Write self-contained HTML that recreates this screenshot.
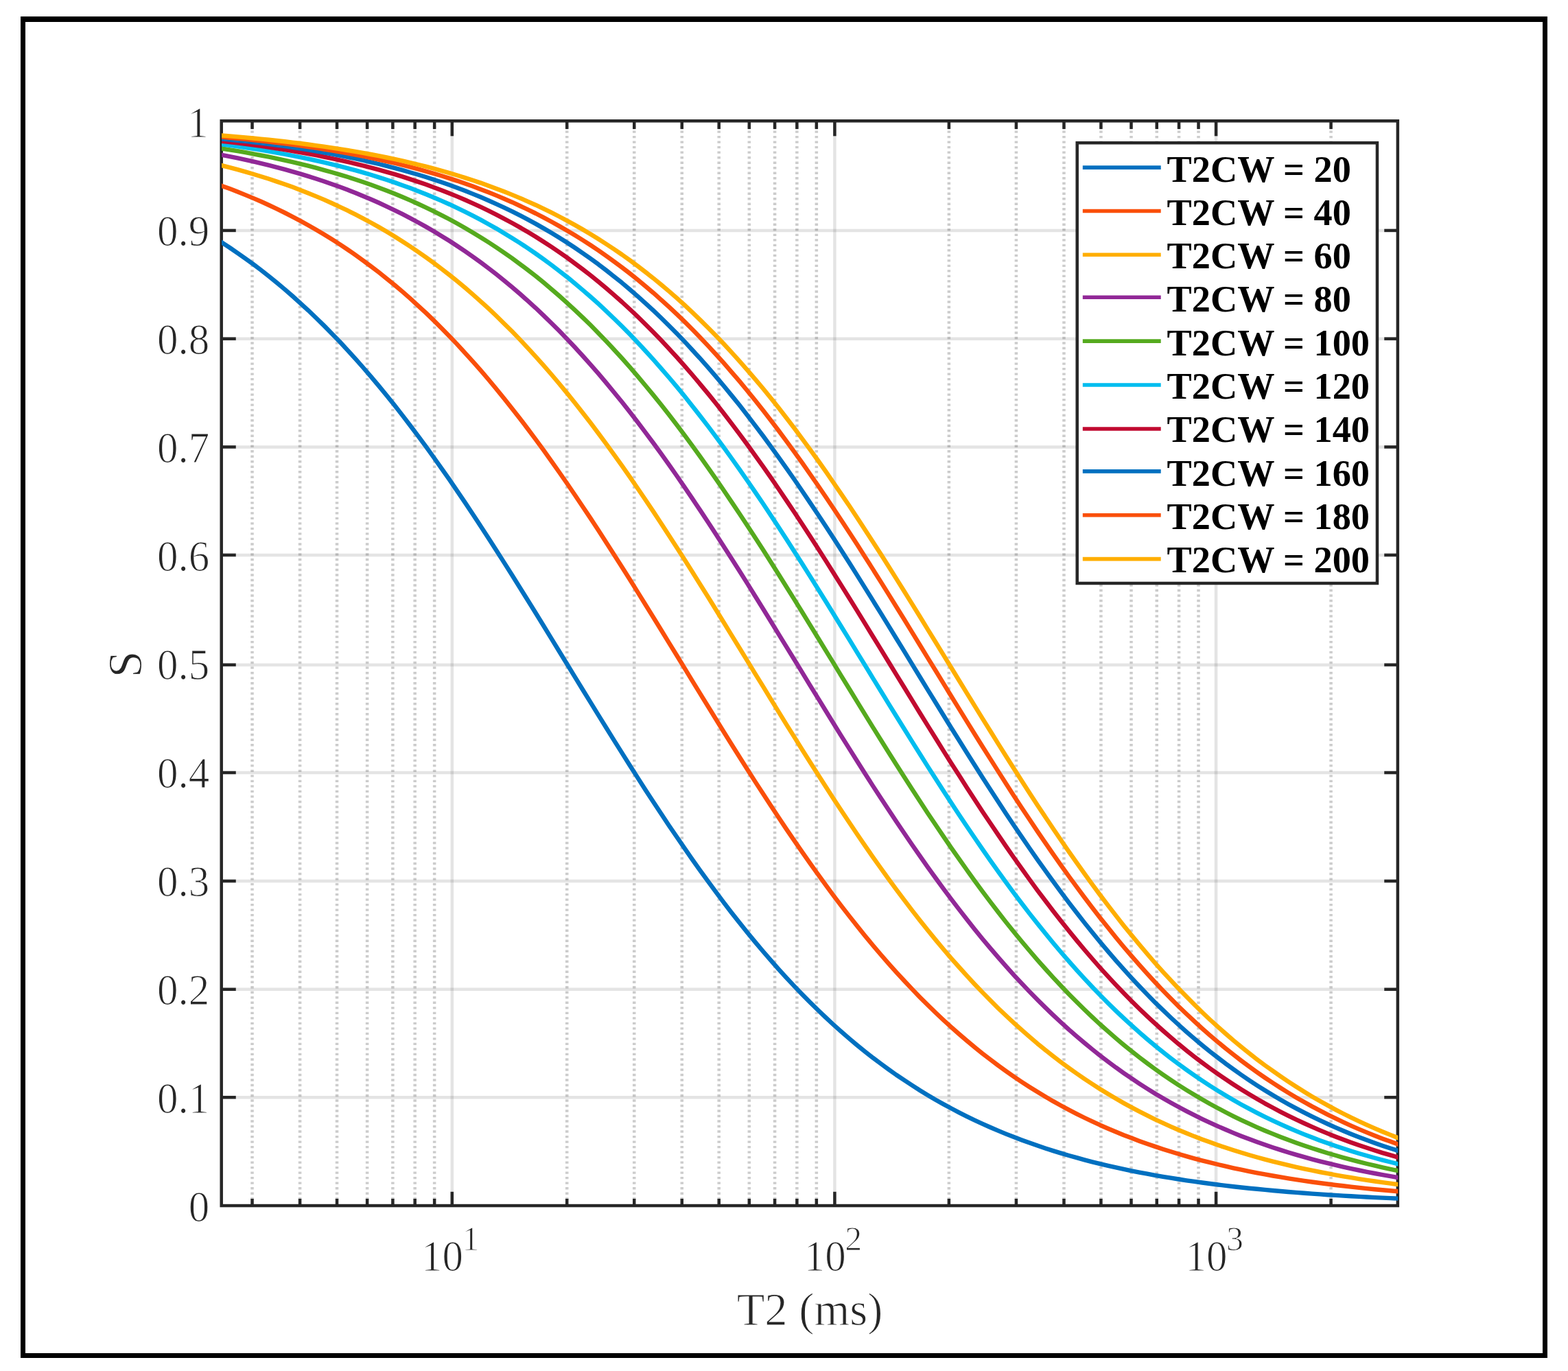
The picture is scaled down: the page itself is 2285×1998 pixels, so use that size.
<!DOCTYPE html>
<html lang="en"><head><meta charset="utf-8"><title>S versus T2 (ms) for T2CW = 20 to 200</title>
<style>html,body{margin:0;padding:0;background:#fff}body{width:2285px;height:1998px;overflow:hidden}svg{display:block}text{font-family:"Liberation Serif","Times New Roman",Times,serif}</style>
</head><body>
<svg width="2285" height="1998" viewBox="0 0 2285 1998">
<rect x="0" y="0" width="2285" height="1998" fill="#fff"/>
<path fill="#000" fill-rule="evenodd" d="M30 24H2255V1979H30Z M37 32V1972H2248V32Z"/>
<g>
<g stroke="#262626" stroke-opacity="0.235" stroke-width="4.5" stroke-dasharray="3.4 4.11" fill="none">
<line x1="367.53" y1="1748.4" x2="367.53" y2="178.5"/>
<line x1="437.08" y1="1748.4" x2="437.08" y2="178.5"/>
<line x1="491.03" y1="1748.4" x2="491.03" y2="178.5"/>
<line x1="535.11" y1="1748.4" x2="535.11" y2="178.5"/>
<line x1="572.38" y1="1748.4" x2="572.38" y2="178.5"/>
<line x1="604.66" y1="1748.4" x2="604.66" y2="178.5"/>
<line x1="633.14" y1="1748.4" x2="633.14" y2="178.5"/>
<line x1="826.19" y1="1748.4" x2="826.19" y2="178.5"/>
<line x1="924.22" y1="1748.4" x2="924.22" y2="178.5"/>
<line x1="993.77" y1="1748.4" x2="993.77" y2="178.5"/>
<line x1="1047.72" y1="1748.4" x2="1047.72" y2="178.5"/>
<line x1="1091.8" y1="1748.4" x2="1091.8" y2="178.5"/>
<line x1="1129.07" y1="1748.4" x2="1129.07" y2="178.5"/>
<line x1="1161.35" y1="1748.4" x2="1161.35" y2="178.5"/>
<line x1="1189.83" y1="1748.4" x2="1189.83" y2="178.5"/>
<line x1="1382.88" y1="1748.4" x2="1382.88" y2="178.5"/>
<line x1="1480.91" y1="1748.4" x2="1480.91" y2="178.5"/>
<line x1="1550.46" y1="1748.4" x2="1550.46" y2="178.5"/>
<line x1="1604.41" y1="1748.4" x2="1604.41" y2="178.5"/>
<line x1="1648.49" y1="1748.4" x2="1648.49" y2="178.5"/>
<line x1="1685.76" y1="1748.4" x2="1685.76" y2="178.5"/>
<line x1="1718.04" y1="1748.4" x2="1718.04" y2="178.5"/>
<line x1="1746.52" y1="1748.4" x2="1746.52" y2="178.5"/>
<line x1="1939.57" y1="1748.4" x2="1939.57" y2="178.5"/>
</g>
<g stroke="#262626" stroke-opacity="0.125" stroke-width="4.5" fill="none">
<line x1="658.8" y1="176.25" x2="658.8" y2="1757.05"/>
<line x1="1216.4" y1="176.25" x2="1216.4" y2="1757.05"/>
<line x1="1772.1" y1="176.25" x2="1772.1" y2="1757.05"/>
<line x1="322.7" y1="1599.2" x2="2036.85" y2="1599.2"/>
<line x1="322.7" y1="1441.8" x2="2036.85" y2="1441.8"/>
<line x1="322.7" y1="1284" x2="2036.85" y2="1284"/>
<line x1="322.7" y1="1126" x2="2036.85" y2="1126"/>
<line x1="322.7" y1="968.9" x2="2036.85" y2="968.9"/>
<line x1="322.7" y1="808.9" x2="2036.85" y2="808.9"/>
<line x1="322.7" y1="651.4" x2="2036.85" y2="651.4"/>
<line x1="322.7" y1="493.7" x2="2036.85" y2="493.7"/>
<line x1="322.7" y1="335.9" x2="2036.85" y2="335.9"/>
</g>
<rect x="322.7" y="176.25" width="1714.15" height="1580.8" fill="none" stroke="#262626" stroke-width="4.5"/>
<g stroke="#262626" stroke-width="4.5" fill="none">
<line x1="322.7" y1="1599.2" x2="343.75" y2="1599.2"/>
<line x1="2036.85" y1="1599.2" x2="2017.25" y2="1599.2"/>
<line x1="322.7" y1="1441.8" x2="343.75" y2="1441.8"/>
<line x1="2036.85" y1="1441.8" x2="2017.25" y2="1441.8"/>
<line x1="322.7" y1="1284" x2="343.75" y2="1284"/>
<line x1="2036.85" y1="1284" x2="2017.25" y2="1284"/>
<line x1="322.7" y1="1126" x2="343.75" y2="1126"/>
<line x1="2036.85" y1="1126" x2="2017.25" y2="1126"/>
<line x1="322.7" y1="968.9" x2="343.75" y2="968.9"/>
<line x1="2036.85" y1="968.9" x2="2017.25" y2="968.9"/>
<line x1="322.7" y1="808.9" x2="343.75" y2="808.9"/>
<line x1="2036.85" y1="808.9" x2="2017.25" y2="808.9"/>
<line x1="322.7" y1="651.4" x2="343.75" y2="651.4"/>
<line x1="2036.85" y1="651.4" x2="2017.25" y2="651.4"/>
<line x1="322.7" y1="493.7" x2="343.75" y2="493.7"/>
<line x1="2036.85" y1="493.7" x2="2017.25" y2="493.7"/>
<line x1="322.7" y1="335.9" x2="343.75" y2="335.9"/>
<line x1="2036.85" y1="335.9" x2="2017.25" y2="335.9"/>
<line x1="658.8" y1="176.25" x2="658.8" y2="198.3"/>
<line x1="658.8" y1="1757.05" x2="658.8" y2="1736.8"/>
<line x1="1216.4" y1="176.25" x2="1216.4" y2="198.3"/>
<line x1="1216.4" y1="1757.05" x2="1216.4" y2="1736.8"/>
<line x1="1772.1" y1="176.25" x2="1772.1" y2="198.3"/>
<line x1="1772.1" y1="1757.05" x2="1772.1" y2="1736.8"/>
<line x1="367.53" y1="176.25" x2="367.53" y2="188.1"/>
<line x1="367.53" y1="1757.05" x2="367.53" y2="1747"/>
<line x1="437.08" y1="176.25" x2="437.08" y2="188.1"/>
<line x1="437.08" y1="1757.05" x2="437.08" y2="1747"/>
<line x1="491.03" y1="176.25" x2="491.03" y2="188.1"/>
<line x1="491.03" y1="1757.05" x2="491.03" y2="1747"/>
<line x1="535.11" y1="176.25" x2="535.11" y2="188.1"/>
<line x1="535.11" y1="1757.05" x2="535.11" y2="1747"/>
<line x1="572.38" y1="176.25" x2="572.38" y2="188.1"/>
<line x1="572.38" y1="1757.05" x2="572.38" y2="1747"/>
<line x1="604.66" y1="176.25" x2="604.66" y2="188.1"/>
<line x1="604.66" y1="1757.05" x2="604.66" y2="1747"/>
<line x1="633.14" y1="176.25" x2="633.14" y2="188.1"/>
<line x1="633.14" y1="1757.05" x2="633.14" y2="1747"/>
<line x1="826.19" y1="176.25" x2="826.19" y2="188.1"/>
<line x1="826.19" y1="1757.05" x2="826.19" y2="1747"/>
<line x1="924.22" y1="176.25" x2="924.22" y2="188.1"/>
<line x1="924.22" y1="1757.05" x2="924.22" y2="1747"/>
<line x1="993.77" y1="176.25" x2="993.77" y2="188.1"/>
<line x1="993.77" y1="1757.05" x2="993.77" y2="1747"/>
<line x1="1047.72" y1="176.25" x2="1047.72" y2="188.1"/>
<line x1="1047.72" y1="1757.05" x2="1047.72" y2="1747"/>
<line x1="1091.8" y1="176.25" x2="1091.8" y2="188.1"/>
<line x1="1091.8" y1="1757.05" x2="1091.8" y2="1747"/>
<line x1="1129.07" y1="176.25" x2="1129.07" y2="188.1"/>
<line x1="1129.07" y1="1757.05" x2="1129.07" y2="1747"/>
<line x1="1161.35" y1="176.25" x2="1161.35" y2="188.1"/>
<line x1="1161.35" y1="1757.05" x2="1161.35" y2="1747"/>
<line x1="1189.83" y1="176.25" x2="1189.83" y2="188.1"/>
<line x1="1189.83" y1="1757.05" x2="1189.83" y2="1747"/>
<line x1="1382.88" y1="176.25" x2="1382.88" y2="188.1"/>
<line x1="1382.88" y1="1757.05" x2="1382.88" y2="1747"/>
<line x1="1480.91" y1="176.25" x2="1480.91" y2="188.1"/>
<line x1="1480.91" y1="1757.05" x2="1480.91" y2="1747"/>
<line x1="1550.46" y1="176.25" x2="1550.46" y2="188.1"/>
<line x1="1550.46" y1="1757.05" x2="1550.46" y2="1747"/>
<line x1="1604.41" y1="176.25" x2="1604.41" y2="188.1"/>
<line x1="1604.41" y1="1757.05" x2="1604.41" y2="1747"/>
<line x1="1648.49" y1="176.25" x2="1648.49" y2="188.1"/>
<line x1="1648.49" y1="1757.05" x2="1648.49" y2="1747"/>
<line x1="1685.76" y1="176.25" x2="1685.76" y2="188.1"/>
<line x1="1685.76" y1="1757.05" x2="1685.76" y2="1747"/>
<line x1="1718.04" y1="176.25" x2="1718.04" y2="188.1"/>
<line x1="1718.04" y1="1757.05" x2="1718.04" y2="1747"/>
<line x1="1746.52" y1="176.25" x2="1746.52" y2="188.1"/>
<line x1="1746.52" y1="1757.05" x2="1746.52" y2="1747"/>
<line x1="1939.57" y1="176.25" x2="1939.57" y2="188.1"/>
<line x1="1939.57" y1="1757.05" x2="1939.57" y2="1747"/>
</g>
<defs><clipPath id="c"><rect x="323" y="176.25" width="1714.3" height="1580.8"/></clipPath></defs>
<g clip-path="url(#c)" fill="none" stroke-width="6.4" stroke-linejoin="round">
<path stroke="#0070c0" d="M312 346.2L323.4 353.5L334.9 361L346.3 368.8L357.7 376.8L369.2 385.2L380.6 393.8L392 402.8L403.4 412.1L414.9 421.6L426.3 431.5L437.7 441.8L449.2 452.3L460.6 463.2L472 474.4L483.4 486L494.9 497.8L506.3 510.1L517.7 522.6L529.1 535.5L540.6 548.8L552 562.4L563.4 576.3L574.9 590.5L586.3 605.1L597.7 620L609.1 635.2L620.6 650.7L632 666.5L643.4 682.6L654.9 698.9L666.3 715.6L677.7 732.4L689.1 749.6L700.6 766.9L712 784.5L723.4 802.2L734.8 820.1L746.3 838.2L757.7 856.5L769.1 874.8L780.6 893.3L792 911.8L803.4 930.4L814.8 949L826.3 967.7L837.7 986.3L849.1 1005L860.6 1023.6L872 1042.1L883.4 1060.5L894.8 1078.9L906.3 1097.1L917.7 1115.2L929.1 1133.1L940.5 1150.9L952 1168.4L963.4 1185.8L974.8 1202.9L986.3 1219.8L997.7 1236.4L1009.1 1252.8L1020.5 1268.8L1032 1284.6L1043.4 1300.1L1054.8 1315.3L1066.2 1330.2L1077.7 1344.8L1089.1 1359L1100.5 1372.9L1112 1386.5L1123.4 1399.7L1134.8 1412.6L1146.2 1425.2L1157.7 1437.4L1169.1 1449.3L1180.5 1460.8L1192 1472L1203.4 1482.9L1214.8 1493.5L1226.2 1503.7L1237.7 1513.6L1249.1 1523.2L1260.5 1532.4L1271.9 1541.4L1283.4 1550L1294.8 1558.4L1306.2 1566.5L1317.7 1574.2L1329.1 1581.7L1340.5 1589L1351.9 1595.9L1363.4 1602.7L1374.8 1609.1L1386.2 1615.3L1397.7 1621.3L1409.1 1627.1L1420.5 1632.6L1431.9 1637.9L1443.4 1643L1454.8 1647.9L1466.2 1652.6L1477.6 1657.1L1489.1 1661.5L1500.5 1665.6L1511.9 1669.6L1523.4 1673.5L1534.8 1677.1L1546.2 1680.6L1557.6 1684L1569.1 1687.2L1580.5 1690.3L1591.9 1693.3L1603.3 1696.1L1614.8 1698.8L1626.2 1701.4L1637.6 1703.9L1649.1 1706.3L1660.5 1708.6L1671.9 1710.7L1683.3 1712.8L1694.8 1714.8L1706.2 1716.7L1717.6 1718.5L1729.1 1720.3L1740.5 1721.9L1751.9 1723.5L1763.3 1725L1774.8 1726.5L1786.2 1727.9L1797.6 1729.2L1809 1730.5L1820.5 1731.7L1831.9 1732.8L1843.3 1733.9L1854.8 1735L1866.2 1736L1877.6 1737L1889 1737.9L1900.5 1738.8L1911.9 1739.6L1923.3 1740.4L1934.8 1741.2L1946.2 1741.9L1957.6 1742.6L1969 1743.2L1980.5 1743.9L1991.9 1744.5L2003.3 1745.1L2014.7 1745.6L2026.2 1746.1L2037.6 1746.6L2049 1747.1"/>
<path stroke="#fa4f0a" d="M312 266.8L323.4 270.9L334.9 275.1L346.3 279.5L357.7 284.1L369.2 288.9L380.6 293.8L392 299L403.4 304.4L414.9 310L426.3 315.8L437.7 321.9L449.2 328.2L460.6 334.8L472 341.6L483.4 348.6L494.9 355.9L506.3 363.5L517.7 371.4L529.1 379.6L540.6 388.1L552 396.8L563.4 405.9L574.9 415.2L586.3 424.9L597.7 434.9L609.1 445.3L620.6 455.9L632 466.9L643.4 478.2L654.9 489.9L666.3 501.9L677.7 514.3L689.1 526.9L700.6 539.9L712 553.3L723.4 567L734.8 581L746.3 595.4L757.7 610L769.1 625L780.6 640.3L792 655.9L803.4 671.8L814.8 688L826.3 704.5L837.7 721.2L849.1 738.2L860.6 755.4L872 772.8L883.4 790.4L894.8 808.2L906.3 826.2L917.7 844.3L929.1 862.6L940.5 881L952 899.5L963.4 918L974.8 936.6L986.3 955.3L997.7 973.9L1009.1 992.6L1020.5 1011.2L1032 1029.8L1043.4 1048.3L1054.8 1066.7L1066.2 1085L1077.7 1103.2L1089.1 1121.2L1100.5 1139.1L1112 1156.8L1123.4 1174.3L1134.8 1191.5L1146.2 1208.6L1157.7 1225.4L1169.1 1241.9L1180.5 1258.2L1192 1274.2L1203.4 1289.9L1214.8 1305.3L1226.2 1320.4L1237.7 1335.1L1249.1 1349.6L1260.5 1363.7L1271.9 1377.5L1283.4 1391L1294.8 1404.1L1306.2 1416.9L1317.7 1429.3L1329.1 1441.4L1340.5 1453.2L1351.9 1464.6L1363.4 1475.7L1374.8 1486.5L1386.2 1496.9L1397.7 1507L1409.1 1516.8L1420.5 1526.3L1431.9 1535.5L1443.4 1544.3L1454.8 1552.9L1466.2 1561.1L1477.6 1569.1L1489.1 1576.8L1500.5 1584.2L1511.9 1591.3L1523.4 1598.2L1534.8 1604.9L1546.2 1611.2L1557.6 1617.4L1569.1 1623.3L1580.5 1629L1591.9 1634.4L1603.3 1639.7L1614.8 1644.7L1626.2 1649.5L1637.6 1654.2L1649.1 1658.6L1660.5 1662.9L1671.9 1667L1683.3 1670.9L1694.8 1674.7L1706.2 1678.3L1717.6 1681.8L1729.1 1685.1L1740.5 1688.3L1751.9 1691.3L1763.3 1694.2L1774.8 1697L1786.2 1699.7L1797.6 1702.3L1809 1704.7L1820.5 1707.1L1831.9 1709.3L1843.3 1711.4L1854.8 1713.5L1866.2 1715.4L1877.6 1717.3L1889 1719.1L1900.5 1720.8L1911.9 1722.5L1923.3 1724L1934.8 1725.5L1946.2 1727L1957.6 1728.3L1969 1729.6L1980.5 1730.9L1991.9 1732.1L2003.3 1733.2L2014.7 1734.3L2026.2 1735.3L2037.6 1736.3L2049 1737.3"/>
<path stroke="#ffae00" d="M312 238.4L323.4 241.2L334.9 244.1L346.3 247.2L357.7 250.3L369.2 253.7L380.6 257.2L392 260.8L403.4 264.6L414.9 268.5L426.3 272.6L437.7 276.9L449.2 281.4L460.6 286.1L472 290.9L483.4 296L494.9 301.3L506.3 306.7L517.7 312.4L529.1 318.4L540.6 324.5L552 330.9L563.4 337.6L574.9 344.5L586.3 351.7L597.7 359.1L609.1 366.8L620.6 374.8L632 383.1L643.4 391.7L654.9 400.6L666.3 409.8L677.7 419.3L689.1 429.1L700.6 439.3L712 449.7L723.4 460.5L734.8 471.7L746.3 483.1L757.7 494.9L769.1 507.1L780.6 519.6L792 532.4L803.4 545.5L814.8 559L826.3 572.9L837.7 587L849.1 601.5L860.6 616.3L872 631.5L883.4 646.9L894.8 662.6L906.3 678.6L917.7 694.9L929.1 711.5L940.5 728.3L952 745.4L963.4 762.7L974.8 780.2L986.3 797.9L997.7 815.8L1009.1 833.8L1020.5 852L1032 870.3L1043.4 888.8L1054.8 907.3L1066.2 925.9L1077.7 944.5L1089.1 963.1L1100.5 981.8L1112 1000.4L1123.4 1019.1L1134.8 1037.6L1146.2 1056.1L1157.7 1074.4L1169.1 1092.7L1180.5 1110.8L1192 1128.8L1203.4 1146.6L1214.8 1164.2L1226.2 1181.6L1237.7 1198.8L1249.1 1215.7L1260.5 1232.4L1271.9 1248.8L1283.4 1265L1294.8 1280.8L1306.2 1296.4L1317.7 1311.7L1329.1 1326.6L1340.5 1341.3L1351.9 1355.6L1363.4 1369.6L1374.8 1383.2L1386.2 1396.6L1397.7 1409.5L1409.1 1422.2L1420.5 1434.5L1431.9 1446.4L1443.4 1458.1L1454.8 1469.4L1466.2 1480.3L1477.6 1490.9L1489.1 1501.2L1500.5 1511.2L1511.9 1520.9L1523.4 1530.2L1534.8 1539.2L1546.2 1548L1557.6 1556.4L1569.1 1564.5L1580.5 1572.4L1591.9 1579.9L1603.3 1587.2L1614.8 1594.3L1626.2 1601.1L1637.6 1607.6L1649.1 1613.9L1660.5 1619.9L1671.9 1625.7L1683.3 1631.3L1694.8 1636.6L1706.2 1641.8L1717.6 1646.8L1729.1 1651.5L1740.5 1656.1L1751.9 1660.4L1763.3 1664.6L1774.8 1668.7L1786.2 1672.5L1797.6 1676.2L1809 1679.8L1820.5 1683.2L1831.9 1686.5L1843.3 1689.6L1854.8 1692.6L1866.2 1695.4L1877.6 1698.2L1889 1700.8L1900.5 1703.3L1911.9 1705.7L1923.3 1708L1934.8 1710.2L1946.2 1712.3L1957.6 1714.3L1969 1716.2L1980.5 1718.1L1991.9 1719.8L2003.3 1721.5L2014.7 1723.1L2026.2 1724.7L2037.6 1726.1L2049 1727.5"/>
<path stroke="#912897" d="M312 223.7L323.4 225.9L334.9 228.1L346.3 230.4L357.7 232.9L369.2 235.4L380.6 238.1L392 240.9L403.4 243.8L414.9 246.9L426.3 250.1L437.7 253.4L449.2 256.9L460.6 260.5L472 264.2L483.4 268.2L494.9 272.3L506.3 276.6L517.7 281L529.1 285.7L540.6 290.5L552 295.5L563.4 300.8L574.9 306.3L586.3 311.9L597.7 317.8L609.1 324L620.6 330.4L632 337L643.4 343.9L654.9 351L666.3 358.5L677.7 366.2L689.1 374.1L700.6 382.4L712 391L723.4 399.8L734.8 409L746.3 418.5L757.7 428.3L769.1 438.4L780.6 448.8L792 459.6L803.4 470.7L814.8 482.1L826.3 493.9L837.7 506L849.1 518.5L860.6 531.3L872 544.4L883.4 557.9L894.8 571.7L906.3 585.8L917.7 600.3L929.1 615L940.5 630.1L952 645.5L963.4 661.2L974.8 677.2L986.3 693.5L997.7 710.1L1009.1 726.9L1020.5 743.9L1032 761.2L1043.4 778.7L1054.8 796.4L1066.2 814.2L1077.7 832.3L1089.1 850.4L1100.5 868.8L1112 887.2L1123.4 905.7L1134.8 924.3L1146.2 942.9L1157.7 961.5L1169.1 980.2L1180.5 998.8L1192 1017.4L1203.4 1036L1214.8 1054.5L1226.2 1072.9L1237.7 1091.1L1249.1 1109.3L1260.5 1127.2L1271.9 1145.1L1283.4 1162.7L1294.8 1180.1L1306.2 1197.3L1317.7 1214.2L1329.1 1231L1340.5 1247.4L1351.9 1263.6L1363.4 1279.5L1374.8 1295.1L1386.2 1310.4L1397.7 1325.4L1409.1 1340L1420.5 1354.4L1431.9 1368.4L1443.4 1382.1L1454.8 1395.4L1466.2 1408.4L1477.6 1421.1L1489.1 1433.4L1500.5 1445.4L1511.9 1457.1L1523.4 1468.4L1534.8 1479.4L1546.2 1490L1557.6 1500.4L1569.1 1510.4L1580.5 1520L1591.9 1529.4L1603.3 1538.5L1614.8 1547.2L1626.2 1555.7L1637.6 1563.8L1649.1 1571.7L1660.5 1579.3L1671.9 1586.6L1683.3 1593.7L1694.8 1600.5L1706.2 1607L1717.6 1613.3L1729.1 1619.4L1740.5 1625.2L1751.9 1630.8L1763.3 1636.2L1774.8 1641.4L1786.2 1646.3L1797.6 1651.1L1809 1655.7L1820.5 1660.1L1831.9 1664.3L1843.3 1668.3L1854.8 1672.2L1866.2 1675.9L1877.6 1679.5L1889 1682.9L1900.5 1686.2L1911.9 1689.3L1923.3 1692.3L1934.8 1695.2L1946.2 1697.9L1957.6 1700.6L1969 1703.1L1980.5 1705.5L1991.9 1707.8L2003.3 1710L2014.7 1712.1L2026.2 1714.2L2037.6 1716.1L2049 1717.9"/>
<path stroke="#55aa1e" d="M312 214.8L323.4 216.5L334.9 218.3L346.3 220.2L357.7 222.2L369.2 224.3L380.6 226.5L392 228.7L403.4 231.1L414.9 233.6L426.3 236.2L437.7 238.9L449.2 241.7L460.6 244.7L472 247.8L483.4 251L494.9 254.3L506.3 257.8L517.7 261.5L529.1 265.3L540.6 269.3L552 273.5L563.4 277.8L574.9 282.3L586.3 287L597.7 291.9L609.1 297L620.6 302.3L632 307.8L643.4 313.6L654.9 319.5L666.3 325.7L677.7 332.2L689.1 338.9L700.6 345.9L712 353.1L723.4 360.6L734.8 368.4L746.3 376.4L757.7 384.8L769.1 393.4L780.6 402.3L792 411.6L803.4 421.2L814.8 431L826.3 441.3L837.7 451.8L849.1 462.6L860.6 473.8L872 485.4L883.4 497.2L894.8 509.5L906.3 522L917.7 534.9L929.1 548.1L940.5 561.7L952 575.6L963.4 589.8L974.8 604.3L986.3 619.2L997.7 634.4L1009.1 649.9L1020.5 665.7L1032 681.8L1043.4 698.1L1054.8 714.7L1066.2 731.6L1077.7 748.7L1089.1 766L1100.5 783.6L1112 801.3L1123.4 819.2L1134.8 837.3L1146.2 855.5L1157.7 873.9L1169.1 892.3L1180.5 910.9L1192 929.5L1203.4 948.1L1214.8 966.7L1226.2 985.4L1237.7 1004L1249.1 1022.6L1260.5 1041.2L1271.9 1059.6L1283.4 1078L1294.8 1096.2L1306.2 1114.3L1317.7 1132.2L1329.1 1150L1340.5 1167.6L1351.9 1184.9L1363.4 1202L1374.8 1218.9L1386.2 1235.6L1397.7 1251.9L1409.1 1268L1420.5 1283.9L1431.9 1299.4L1443.4 1314.6L1454.8 1329.5L1466.2 1344.1L1477.6 1358.3L1489.1 1372.2L1500.5 1385.8L1511.9 1399.1L1523.4 1412L1534.8 1424.6L1546.2 1436.8L1557.6 1448.7L1569.1 1460.3L1580.5 1471.5L1591.9 1482.4L1603.3 1493L1614.8 1503.2L1626.2 1513.1L1637.6 1522.7L1649.1 1532L1660.5 1540.9L1671.9 1549.6L1683.3 1558L1694.8 1566.1L1706.2 1573.9L1717.6 1581.4L1729.1 1588.6L1740.5 1595.6L1751.9 1602.3L1763.3 1608.8L1774.8 1615L1786.2 1621L1797.6 1626.8L1809 1632.3L1820.5 1637.7L1831.9 1642.8L1843.3 1647.7L1854.8 1652.4L1866.2 1656.9L1877.6 1661.3L1889 1665.4L1900.5 1669.4L1911.9 1673.3L1923.3 1676.9L1934.8 1680.5L1946.2 1683.8L1957.6 1687.1L1969 1690.2L1980.5 1693.1L1991.9 1696L2003.3 1698.7L2014.7 1701.3L2026.2 1703.8L2037.6 1706.2L2049 1708.4"/>
<path stroke="#00bdef" d="M312 208.8L323.4 210.2L334.9 211.8L346.3 213.4L357.7 215L369.2 216.8L380.6 218.6L392 220.5L403.4 222.5L414.9 224.6L426.3 226.8L437.7 229.1L449.2 231.5L460.6 234L472 236.6L483.4 239.3L494.9 242.1L506.3 245.1L517.7 248.2L529.1 251.4L540.6 254.8L552 258.4L563.4 262L574.9 265.9L586.3 269.9L597.7 274.1L609.1 278.4L620.6 283L632 287.7L643.4 292.6L654.9 297.7L666.3 303.1L677.7 308.6L689.1 314.4L700.6 320.4L712 326.7L723.4 333.1L734.8 339.9L746.3 346.9L757.7 354.1L769.1 361.7L780.6 369.5L792 377.6L803.4 386L814.8 394.7L826.3 403.6L837.7 412.9L849.1 422.6L860.6 432.5L872 442.7L883.4 453.3L894.8 464.2L906.3 475.5L917.7 487.1L929.1 499L940.5 511.2L952 523.8L963.4 536.8L974.8 550L986.3 563.6L997.7 577.6L1009.1 591.9L1020.5 606.5L1032 621.4L1043.4 636.6L1054.8 652.1L1066.2 668L1077.7 684.1L1089.1 700.5L1100.5 717.1L1112 734L1123.4 751.2L1134.8 768.5L1146.2 786.1L1157.7 803.9L1169.1 821.8L1180.5 839.9L1192 858.2L1203.4 876.5L1214.8 895L1226.2 913.5L1237.7 932.1L1249.1 950.8L1260.5 969.4L1271.9 988.1L1283.4 1006.7L1294.8 1025.3L1306.2 1043.8L1317.7 1062.2L1329.1 1080.6L1340.5 1098.8L1351.9 1116.9L1363.4 1134.8L1374.8 1152.5L1386.2 1170L1397.7 1187.4L1409.1 1204.5L1420.5 1221.3L1431.9 1237.9L1443.4 1254.3L1454.8 1270.3L1466.2 1286.1L1477.6 1301.6L1489.1 1316.7L1500.5 1331.6L1511.9 1346.1L1523.4 1360.3L1534.8 1374.2L1546.2 1387.7L1557.6 1400.9L1569.1 1413.8L1580.5 1426.3L1591.9 1438.5L1603.3 1450.4L1614.8 1461.9L1626.2 1473.1L1637.6 1483.9L1649.1 1494.4L1660.5 1504.6L1671.9 1514.5L1683.3 1524L1694.8 1533.3L1706.2 1542.2L1717.6 1550.8L1729.1 1559.2L1740.5 1567.2L1751.9 1574.9L1763.3 1582.4L1774.8 1589.6L1786.2 1596.6L1797.6 1603.3L1809 1609.7L1820.5 1615.9L1831.9 1621.9L1843.3 1627.6L1854.8 1633.1L1866.2 1638.4L1877.6 1643.5L1889 1648.4L1900.5 1653.1L1911.9 1657.6L1923.3 1661.9L1934.8 1666L1946.2 1670L1957.6 1673.8L1969 1677.5L1980.5 1681L1991.9 1684.3L2003.3 1687.5L2014.7 1690.6L2026.2 1693.5L2037.6 1696.4L2049 1699.1"/>
<path stroke="#c10a30" d="M312 204.4L323.4 205.7L334.9 207L346.3 208.4L357.7 209.8L369.2 211.3L380.6 212.9L392 214.6L403.4 216.3L414.9 218.1L426.3 220L437.7 222L449.2 224L460.6 226.2L472 228.5L483.4 230.8L494.9 233.3L506.3 235.9L517.7 238.6L529.1 241.4L540.6 244.3L552 247.4L563.4 250.6L574.9 253.9L586.3 257.4L597.7 261.1L609.1 264.9L620.6 268.8L632 273L643.4 277.3L654.9 281.8L666.3 286.4L677.7 291.3L689.1 296.4L700.6 301.7L712 307.2L723.4 312.9L734.8 318.8L746.3 325L757.7 331.4L769.1 338.1L780.6 345L792 352.2L803.4 359.7L814.8 367.4L826.3 375.4L837.7 383.8L849.1 392.4L860.6 401.3L872 410.5L883.4 420L894.8 429.9L906.3 440L917.7 450.5L929.1 461.3L940.5 472.5L952 484L963.4 495.8L974.8 508L986.3 520.5L997.7 533.3L1009.1 546.5L1020.5 560.1L1032 573.9L1043.4 588.1L1054.8 602.6L1066.2 617.4L1077.7 632.6L1089.1 648L1100.5 663.8L1112 679.8L1123.4 696.2L1134.8 712.7L1146.2 729.6L1157.7 746.7L1169.1 764L1180.5 781.5L1192 799.2L1203.4 817.1L1214.8 835.2L1226.2 853.4L1237.7 871.7L1249.1 890.1L1260.5 908.7L1271.9 927.2L1283.4 945.9L1294.8 964.5L1306.2 983.2L1317.7 1001.8L1329.1 1020.4L1340.5 1039L1351.9 1057.4L1363.4 1075.8L1374.8 1094.1L1386.2 1112.2L1397.7 1130.1L1409.1 1147.9L1420.5 1165.5L1431.9 1182.9L1443.4 1200L1454.8 1216.9L1466.2 1233.6L1477.6 1250L1489.1 1266.2L1500.5 1282L1511.9 1297.6L1523.4 1312.8L1534.8 1327.7L1546.2 1342.3L1557.6 1356.6L1569.1 1370.6L1580.5 1384.2L1591.9 1397.5L1603.3 1410.5L1614.8 1423.1L1626.2 1435.4L1637.6 1447.3L1649.1 1458.9L1660.5 1470.2L1671.9 1481.1L1683.3 1491.7L1694.8 1502L1706.2 1511.9L1717.6 1521.6L1729.1 1530.9L1740.5 1539.9L1751.9 1548.6L1763.3 1557L1774.8 1565.1L1786.2 1572.9L1797.6 1580.5L1809 1587.8L1820.5 1594.8L1831.9 1601.5L1843.3 1608.1L1854.8 1614.3L1866.2 1620.3L1877.6 1626.1L1889 1631.7L1900.5 1637L1911.9 1642.2L1923.3 1647.1L1934.8 1651.9L1946.2 1656.4L1957.6 1660.8L1969 1665L1980.5 1669L1991.9 1672.8L2003.3 1676.5L2014.7 1680.1L2026.2 1683.4L2037.6 1686.7L2049 1689.8"/>
<path stroke="#0070c0" d="M312 201.2L323.4 202.3L334.9 203.5L346.3 204.7L357.7 205.9L369.2 207.3L380.6 208.6L392 210.1L403.4 211.6L414.9 213.2L426.3 214.9L437.7 216.6L449.2 218.4L460.6 220.3L472 222.3L483.4 224.4L494.9 226.6L506.3 228.9L517.7 231.2L529.1 233.7L540.6 236.3L552 239L563.4 241.9L574.9 244.8L586.3 247.9L597.7 251.2L609.1 254.5L620.6 258L632 261.7L643.4 265.5L654.9 269.5L666.3 273.7L677.7 278L689.1 282.6L700.6 287.3L712 292.2L723.4 297.3L734.8 302.6L746.3 308.1L757.7 313.9L769.1 319.9L780.6 326.1L792 332.6L803.4 339.3L814.8 346.3L826.3 353.5L837.7 361L849.1 368.8L860.6 376.9L872 385.2L883.4 393.9L894.8 402.9L906.3 412.1L917.7 421.7L929.1 431.6L940.5 441.8L952 452.4L963.4 463.3L974.8 474.5L986.3 486L997.7 497.9L1009.1 510.2L1020.5 522.7L1032 535.6L1043.4 548.9L1054.8 562.5L1066.2 576.4L1077.7 590.6L1089.1 605.2L1100.5 620.1L1112 635.3L1123.4 650.8L1134.8 666.6L1146.2 682.7L1157.7 699L1169.1 715.7L1180.5 732.6L1192 749.7L1203.4 767L1214.8 784.6L1226.2 802.3L1237.7 820.3L1249.1 838.4L1260.5 856.6L1271.9 874.9L1283.4 893.4L1294.8 911.9L1306.2 930.5L1317.7 949.1L1329.1 967.8L1340.5 986.5L1351.9 1005.1L1363.4 1023.7L1374.8 1042.2L1386.2 1060.7L1397.7 1079L1409.1 1097.2L1420.5 1115.3L1431.9 1133.2L1443.4 1151L1454.8 1168.5L1466.2 1185.9L1477.6 1203L1489.1 1219.9L1500.5 1236.5L1511.9 1252.9L1523.4 1268.9L1534.8 1284.7L1546.2 1300.2L1557.6 1315.4L1569.1 1330.3L1580.5 1344.9L1591.9 1359.1L1603.3 1373L1614.8 1386.6L1626.2 1399.8L1637.6 1412.7L1649.1 1425.3L1660.5 1437.5L1671.9 1449.4L1683.3 1460.9L1694.8 1472.1L1706.2 1483L1717.6 1493.5L1729.1 1503.8L1740.5 1513.6L1751.9 1523.2L1763.3 1532.5L1774.8 1541.4L1786.2 1550.1L1797.6 1558.4L1809 1566.5L1820.5 1574.3L1831.9 1581.8L1843.3 1589L1854.8 1596L1866.2 1602.7L1877.6 1609.2L1889 1615.4L1900.5 1621.4L1911.9 1627.1L1923.3 1632.6L1934.8 1638L1946.2 1643.1L1957.6 1648L1969 1652.7L1980.5 1657.2L1991.9 1661.5L2003.3 1665.7L2014.7 1669.7L2026.2 1673.5L2037.6 1677.1L2049 1680.7"/>
<path stroke="#fa4f0a" d="M312 198.6L323.4 199.6L334.9 200.7L346.3 201.7L357.7 202.9L369.2 204.1L380.6 205.3L392 206.6L403.4 208L414.9 209.4L426.3 210.9L437.7 212.4L449.2 214L460.6 215.7L472 217.5L483.4 219.4L494.9 221.3L506.3 223.4L517.7 225.5L529.1 227.7L540.6 230.1L552 232.5L563.4 235L574.9 237.7L586.3 240.5L597.7 243.4L609.1 246.4L620.6 249.6L632 252.9L643.4 256.3L654.9 259.9L666.3 263.6L677.7 267.6L689.1 271.6L700.6 275.9L712 280.3L723.4 284.9L734.8 289.7L746.3 294.7L757.7 300L769.1 305.4L780.6 311L792 316.9L803.4 323L814.8 329.4L826.3 336L837.7 342.8L849.1 349.9L860.6 357.3L872 364.9L883.4 372.9L894.8 381.1L906.3 389.6L917.7 398.4L929.1 407.5L940.5 417L952 426.7L963.4 436.8L974.8 447.2L986.3 457.9L997.7 468.9L1009.1 480.3L1020.5 492L1032 504.1L1043.4 516.5L1054.8 529.2L1066.2 542.3L1077.7 555.7L1089.1 569.5L1100.5 583.6L1112 598L1123.4 612.7L1134.8 627.8L1146.2 643.1L1157.7 658.8L1169.1 674.7L1180.5 691L1192 707.5L1203.4 724.2L1214.8 741.2L1226.2 758.5L1237.7 775.9L1249.1 793.6L1260.5 811.4L1271.9 829.4L1283.4 847.6L1294.8 865.9L1306.2 884.3L1317.7 902.8L1329.1 921.4L1340.5 940L1351.9 958.6L1363.4 977.3L1374.8 995.9L1386.2 1014.5L1397.7 1033.1L1409.1 1051.6L1420.5 1070L1431.9 1088.3L1443.4 1106.4L1454.8 1124.4L1466.2 1142.3L1477.6 1159.9L1489.1 1177.4L1500.5 1194.6L1511.9 1211.6L1523.4 1228.4L1534.8 1244.9L1546.2 1261.1L1557.6 1277L1569.1 1292.7L1580.5 1308L1591.9 1323L1603.3 1337.8L1614.8 1352.1L1626.2 1366.2L1637.6 1380L1649.1 1393.4L1660.5 1406.4L1671.9 1419.1L1683.3 1431.5L1694.8 1443.6L1706.2 1455.3L1717.6 1466.7L1729.1 1477.7L1740.5 1488.4L1751.9 1498.8L1763.3 1508.8L1774.8 1518.6L1786.2 1528L1797.6 1537.1L1809 1545.9L1820.5 1554.4L1831.9 1562.6L1843.3 1570.5L1854.8 1578.1L1866.2 1585.5L1877.6 1592.6L1889 1599.4L1900.5 1606L1911.9 1612.4L1923.3 1618.4L1934.8 1624.3L1946.2 1629.9L1957.6 1635.4L1969 1640.6L1980.5 1645.6L1991.9 1650.4L2003.3 1655L2014.7 1659.4L2026.2 1663.6L2037.6 1667.7L2049 1671.6"/>
<path stroke="#ffae00" d="M312 196.6L323.4 197.5L334.9 198.4L346.3 199.4L357.7 200.4L369.2 201.5L380.6 202.6L392 203.8L403.4 205L414.9 206.3L426.3 207.6L437.7 209L449.2 210.5L460.6 212.1L472 213.7L483.4 215.4L494.9 217.1L506.3 219L517.7 220.9L529.1 222.9L540.6 225L552 227.2L563.4 229.5L574.9 231.9L586.3 234.4L597.7 237.1L609.1 239.8L620.6 242.7L632 245.7L643.4 248.8L654.9 252.1L666.3 255.5L677.7 259.1L689.1 262.8L700.6 266.6L712 270.7L723.4 274.9L734.8 279.3L746.3 283.9L757.7 288.6L769.1 293.6L780.6 298.7L792 304.1L803.4 309.7L814.8 315.5L826.3 321.6L837.7 327.9L849.1 334.4L860.6 341.2L872 348.3L883.4 355.6L894.8 363.2L906.3 371L917.7 379.2L929.1 387.6L940.5 396.4L952 405.4L963.4 414.8L974.8 424.4L986.3 434.4L997.7 444.7L1009.1 455.4L1020.5 466.4L1032 477.7L1043.4 489.3L1054.8 501.3L1066.2 513.6L1077.7 526.3L1089.1 539.3L1100.5 552.6L1112 566.3L1123.4 580.3L1134.8 594.6L1146.2 609.3L1157.7 624.3L1169.1 639.6L1180.5 655.2L1192 671L1203.4 687.2L1214.8 703.7L1226.2 720.4L1237.7 737.3L1249.1 754.5L1260.5 771.9L1271.9 789.5L1283.4 807.3L1294.8 825.3L1306.2 843.4L1317.7 861.7L1329.1 880.1L1340.5 898.5L1351.9 917.1L1363.4 935.7L1374.8 954.3L1386.2 973L1397.7 991.7L1409.1 1010.3L1420.5 1028.9L1431.9 1047.4L1443.4 1065.8L1454.8 1084.1L1466.2 1102.3L1477.6 1120.3L1489.1 1138.2L1500.5 1155.9L1511.9 1173.4L1523.4 1190.7L1534.8 1207.7L1546.2 1224.5L1557.6 1241.1L1569.1 1257.4L1580.5 1273.4L1591.9 1289.1L1603.3 1304.5L1614.8 1319.6L1626.2 1334.4L1637.6 1348.9L1649.1 1363L1660.5 1376.8L1671.9 1390.3L1683.3 1403.5L1694.8 1416.3L1706.2 1428.7L1717.6 1440.8L1729.1 1452.6L1740.5 1464.1L1751.9 1475.2L1763.3 1486L1774.8 1496.4L1786.2 1506.5L1797.6 1516.4L1809 1525.8L1820.5 1535L1831.9 1543.9L1843.3 1552.5L1854.8 1560.7L1866.2 1568.7L1877.6 1576.4L1889 1583.8L1900.5 1591L1911.9 1597.9L1923.3 1604.5L1934.8 1610.9L1946.2 1617.1L1957.6 1623L1969 1628.7L1980.5 1634.1L1991.9 1639.4L2003.3 1644.4L2014.7 1649.3L2026.2 1653.9L2037.6 1658.4L2049 1662.7"/>
</g>
<g fill="#262626" font-size="61" stroke="#fff" stroke-width="1.1" paint-order="fill stroke">
<text transform="translate(305.3 1780.1) scale(1 1.03)" text-anchor="end">0</text>
<text transform="translate(305.3 1622.07) scale(1 1.03)" text-anchor="end">0.1</text>
<text transform="translate(305.3 1464.04) scale(1 1.03)" text-anchor="end">0.2</text>
<text transform="translate(305.3 1306.01) scale(1 1.03)" text-anchor="end">0.3</text>
<text transform="translate(305.3 1147.98) scale(1 1.03)" text-anchor="end">0.4</text>
<text transform="translate(305.3 989.95) scale(1 1.03)" text-anchor="end">0.5</text>
<text transform="translate(305.3 831.92) scale(1 1.03)" text-anchor="end">0.6</text>
<text transform="translate(305.3 673.89) scale(1 1.03)" text-anchor="end">0.7</text>
<text transform="translate(305.3 515.86) scale(1 1.03)" text-anchor="end">0.8</text>
<text transform="translate(305.3 357.83) scale(1 1.03)" text-anchor="end">0.9</text>
<text transform="translate(303.8 199.8) scale(1 1.03)" text-anchor="end">1</text>
<text transform="translate(614.1 1851.7) scale(1 1.03)">10<tspan font-size="50" dx="-1.5" dy="-29.2">1</tspan></text>
<text transform="translate(1171.7 1851.7) scale(1 1.03)">10<tspan font-size="50" dx="-1.5" dy="-29.2">2</tspan></text>
<text transform="translate(1727.4 1851.7) scale(1 1.03)">10<tspan font-size="50" dx="-1.5" dy="-29.2">3</tspan></text>
</g>
<text x="1180" y="1930.7" text-anchor="middle" font-size="66.6" fill="#262626" stroke="#fff" stroke-width="1.1" paint-order="fill stroke">T2 (ms)</text>
<text transform="translate(206.0 968) rotate(-90)" text-anchor="middle" font-size="70" fill="#262626" stroke="#fff" stroke-width="1.1" paint-order="fill stroke">S</text>
<rect x="1569.7" y="208.2" width="437.25" height="641.8" fill="#fff" stroke="#262626" stroke-width="4.5"/>
<g font-size="54.3" font-weight="bold" fill="#000">
<line x1="1577.8" y1="244.16" x2="1691.7" y2="244.16" stroke="#0070c0" stroke-width="5.6"/>
<text transform="translate(1700.6 265.25) scale(1 1.02)">T2CW = 20</text>
<line x1="1577.8" y1="307.5" x2="1691.7" y2="307.5" stroke="#fa4f0a" stroke-width="5.6"/>
<text transform="translate(1700.6 327.9) scale(1 1.02)">T2CW = 40</text>
<line x1="1577.8" y1="371.3" x2="1691.7" y2="371.3" stroke="#ffae00" stroke-width="5.6"/>
<text transform="translate(1700.6 391.3) scale(1 1.02)">T2CW = 60</text>
<line x1="1577.8" y1="433.3" x2="1691.7" y2="433.3" stroke="#912897" stroke-width="5.6"/>
<text transform="translate(1700.6 454.2) scale(1 1.02)">T2CW = 80</text>
<line x1="1577.8" y1="497.1" x2="1691.7" y2="497.1" stroke="#55aa1e" stroke-width="5.6"/>
<text transform="translate(1700.6 517.9) scale(1 1.02)">T2CW = 100</text>
<line x1="1577.8" y1="561" x2="1691.7" y2="561" stroke="#00bdef" stroke-width="5.6"/>
<text transform="translate(1700.6 580.7) scale(1 1.02)">T2CW = 120</text>
<line x1="1577.8" y1="624.95" x2="1691.7" y2="624.95" stroke="#c10a30" stroke-width="5.6"/>
<text transform="translate(1700.6 644.3) scale(1 1.02)">T2CW = 140</text>
<line x1="1577.8" y1="686.9" x2="1691.7" y2="686.9" stroke="#0070c0" stroke-width="5.6"/>
<text transform="translate(1700.6 708.2) scale(1 1.02)">T2CW = 160</text>
<line x1="1577.8" y1="750.7" x2="1691.7" y2="750.7" stroke="#fa4f0a" stroke-width="5.6"/>
<text transform="translate(1700.6 771.1) scale(1 1.02)">T2CW = 180</text>
<line x1="1577.8" y1="814.6" x2="1691.7" y2="814.6" stroke="#ffae00" stroke-width="5.6"/>
<text transform="translate(1700.6 833.7) scale(1 1.02)">T2CW = 200</text>
</g>
</g>
</svg></body></html>
